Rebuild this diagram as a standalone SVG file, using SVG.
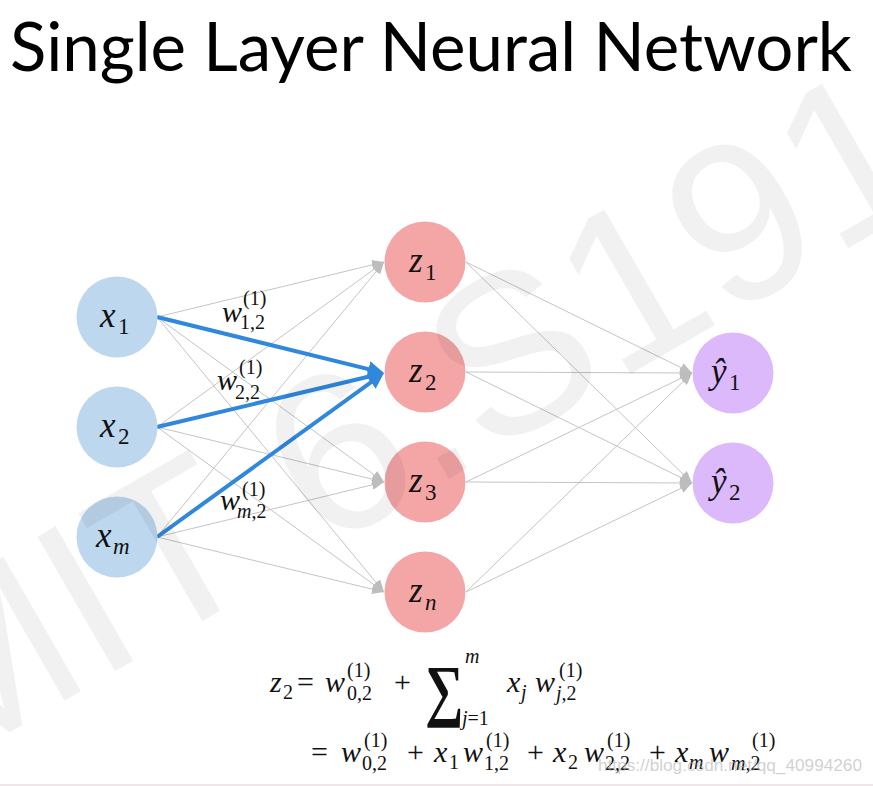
<svg xmlns="http://www.w3.org/2000/svg" width="873" height="786" viewBox="0 0 873 786">
<style>
.ttl{font-family:Lato,"Open Sans","Liberation Sans",sans-serif;font-size:68px;fill:#000}
.m{font-family:"Liberation Serif",serif;fill:#111}
.it{font-style:italic}
.nl{font-size:35px}
.ns{font-size:23px}
.el{font-size:30px}
.es{font-size:20px}
.gl{stroke:#c4c4c4;stroke-width:1;fill:none;marker-end:url(#ag)}
.bl{stroke:#2f88dc;stroke-width:4;fill:none;marker-end:url(#ab)}
.cx{fill:#bdd7ee}
.cz{fill:#f4a6a7}
.cy{fill:#dcb9fb}
</style>
<defs>
<marker id="ag" viewBox="0 0 12 10" refX="12" refY="5" markerWidth="12" markerHeight="10" markerUnits="userSpaceOnUse" orient="auto"><path d="M0,0 L12,5 L0,10 Z" fill="#bdbdbd"/></marker>
<marker id="ab" viewBox="0 0 16 16" refX="2" refY="8" markerWidth="16" markerHeight="16" markerUnits="userSpaceOnUse" orient="auto"><path d="M0,0 L16,8 L0,16 Z" fill="#2f88dc"/></marker>
</defs>
<rect width="873" height="786" fill="#fff"/>
<text class="ttl" x="10" y="71" textLength="842" lengthAdjust="spacingAndGlyphs">Single Layer Neural Network</text>

<g id="connectors">
<line class="gl" x1="157" y1="317" x2="384" y2="262"/>
<line class="gl" x1="157" y1="317" x2="384" y2="482"/>
<line class="gl" x1="157" y1="317" x2="384" y2="592"/>
<line class="gl" x1="157" y1="427" x2="384" y2="262"/>
<line class="gl" x1="157" y1="427" x2="384" y2="482"/>
<line class="gl" x1="157" y1="427" x2="384" y2="592"/>
<line class="gl" x1="157" y1="537" x2="384" y2="262"/>
<line class="gl" x1="157" y1="537" x2="384" y2="482"/>
<line class="gl" x1="157" y1="537" x2="384" y2="592"/>
<line class="gl" x1="466" y1="262" x2="692" y2="373"/>
<line class="gl" x1="466" y1="262" x2="692" y2="483"/>
<line class="gl" x1="466" y1="372" x2="692" y2="373"/>
<line class="gl" x1="466" y1="372" x2="692" y2="483"/>
<line class="gl" x1="466" y1="482" x2="692" y2="373"/>
<line class="gl" x1="466" y1="482" x2="692" y2="483"/>
<line class="gl" x1="466" y1="592" x2="692" y2="373"/>
<line class="gl" x1="466" y1="592" x2="692" y2="483"/>
<line class="bl" x1="157" y1="317" x2="370.4" y2="369.6"/>
<line class="bl" x1="157" y1="427" x2="370.4" y2="376.2"/>
<line class="bl" x1="157" y1="537" x2="372.6" y2="381.2"/>
</g>

<g id="edge-labels" class="m">
<text class="it el" x="222" y="322">w</text><text class="es" x="243" y="305">(1)</text><text class="es" x="240" y="329">1,2</text>
<text class="it el" x="217" y="390">w</text><text class="es" x="239" y="374">(1)</text><text class="es" x="235" y="399">2,2</text>
<text class="it el" x="220" y="510">w</text><text class="es" x="242" y="496">(1)</text><text class="es" x="237" y="518"><tspan class="it">m</tspan>,2</text>
</g>

<g id="x1"><circle class="cx" cx="117" cy="317" r="40.5"/><text class="m it nl" x="100" y="327">x</text><text class="m ns" x="118" y="334">1</text></g>
<g id="x2"><circle class="cx" cx="117" cy="427" r="40.5"/><text class="m it nl" x="100" y="437">x</text><text class="m ns" x="118" y="444">2</text></g>
<g id="xm"><circle class="cx" cx="117" cy="537" r="40.5"/><text class="m it nl" x="96" y="547">x</text><text class="m it ns" x="113" y="554">m</text></g>

<g id="z1"><circle class="cz" cx="425" cy="262" r="40.5"/><text class="m it nl" x="409" y="272">z</text><text class="m ns" x="425" y="280">1</text></g>
<g id="z2"><circle class="cz" cx="425" cy="372" r="40.5"/><text class="m it nl" x="409" y="382">z</text><text class="m ns" x="425" y="390">2</text></g>
<g id="z3"><circle class="cz" cx="425" cy="482" r="40.5"/><text class="m it nl" x="409" y="492">z</text><text class="m ns" x="425" y="500">3</text></g>
<g id="zn"><circle class="cz" cx="425" cy="592" r="40.5"/><text class="m it nl" x="409" y="602">z</text><text class="m it ns" x="425" y="610">n</text></g>

<g id="y1"><circle class="cy" cx="733" cy="373" r="40.5"/><text class="m it nl" x="711" y="383">ŷ</text><text class="m ns" x="729" y="390">1</text></g>
<g id="y2"><circle class="cy" cx="733" cy="483" r="40.5"/><text class="m it nl" x="711" y="493">ŷ</text><text class="m ns" x="729" y="500">2</text></g>

<g id="equation" class="m">
<text class="it el" x="270" y="692">z</text><text class="es" x="283" y="699">2</text>
<text class="el" x="297" y="692">=</text>
<text class="it el" x="325" y="692">w</text><text class="es" x="347" y="677">(1)</text><text class="es" x="347" y="700">0,2</text>
<text class="el" x="394" y="692">+</text>
<text font-size="54" font-weight="bold" transform="translate(425,713) scale(1,1.28)">∑</text>
<text class="it es" x="465" y="663">m</text>
<text class="es" x="462" y="725" font-size="21"><tspan class="it">j</tspan>=1</text>
<text class="it el" x="507" y="692">x</text><text class="it es" x="521" y="699">j</text>
<text class="it el" x="535" y="692">w</text><text class="es" x="559" y="677">(1)</text><text class="es" x="556" y="700"><tspan class="it">j</tspan>,2</text>

<text class="el" x="311" y="762">=</text>
<text class="it el" x="341" y="762">w</text><text class="es" x="364" y="747">(1)</text><text class="es" x="362" y="770">0,2</text>
<text class="el" x="407" y="762">+</text>
<text class="it el" x="434" y="762">x</text><text class="es" x="449" y="769">1</text>
<text class="it el" x="463" y="762">w</text><text class="es" x="486" y="747">(1)</text><text class="es" x="484" y="770">1,2</text>
<text class="el" x="527" y="762">+</text>
<text class="it el" x="553" y="762">x</text><text class="es" x="568" y="769">2</text>
<text class="it el" x="584" y="762">w</text><text class="es" x="607" y="747">(1)</text><text class="es" x="605" y="770">2,2</text>
<text class="el" x="649" y="762">+</text>
<text class="it el" x="675" y="762">x</text><text class="it es" x="689" y="769">m</text>
<text class="it el" x="709" y="762">w</text><text class="es" x="752" y="747">(1)</text><text class="es" x="731" y="770"><tspan class="it">m</tspan>,2</text>
</g>

<g id="watermarks">
<text transform="translate(-66,776) rotate(-30)" font-family="'Liberation Sans',Arial,sans-serif" font-size="226" fill="#000" fill-opacity="0.055">MIT 6.S191</text>
<text x="598" y="771" font-family="'Liberation Sans',Arial,sans-serif" font-size="16" textLength="264" lengthAdjust="spacingAndGlyphs" fill="#aaaaaa" fill-opacity="0.55">https://blog.csdn.net/qq_40994260</text>
</g>
<rect x="0" y="784" width="873" height="2" fill="#efe6ea"/>
</svg>
